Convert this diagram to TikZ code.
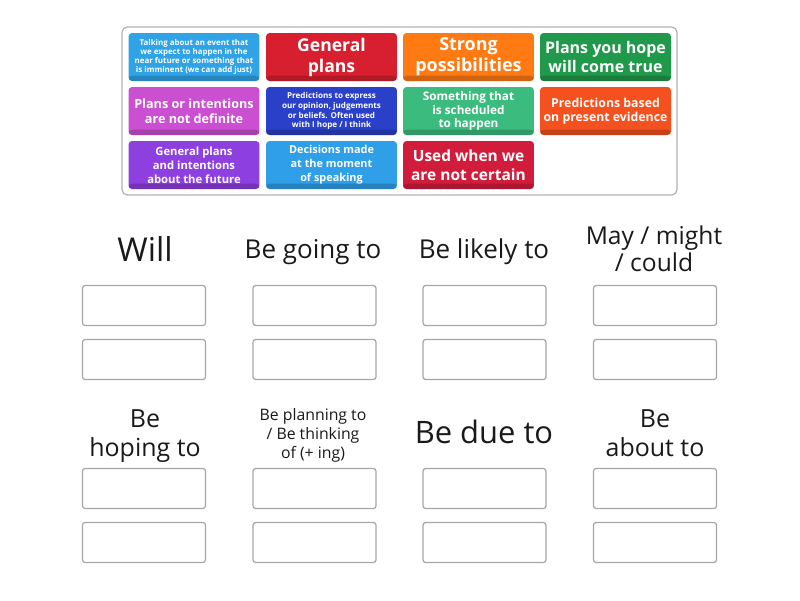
\documentclass[tikz,border=0pt]{standalone}
\usepackage{fontspec}
\setmainfont{Open Sans}
\definecolor{tLightBlue}{HTML}{2FA3E6}
\definecolor{tRed}{HTML}{D81F30}
\definecolor{tOrange}{HTML}{FF7A12}
\definecolor{tGreen}{HTML}{20994A}
\definecolor{tMagenta}{HTML}{CB4FD1}
\definecolor{tDarkBlue}{HTML}{2A40C8}
\definecolor{tTeal}{HTML}{3CBB7F}
\definecolor{tOrangeRed}{HTML}{F4511E}
\definecolor{tPurple}{HTML}{8E3FE0}
\definecolor{tSkyBlue}{HTML}{2F9FE8}
\definecolor{tCrimson}{HTML}{D11D3B}
\newcommand{\fs}[2]{\fontsize{#1}{#2}\selectfont}
\begin{document}
\begin{tikzpicture}[x=0.02cm, y=-0.02cm,
  tile/.style={rounded corners=2pt, minimum width=2.62cm, minimum height=0.96cm,
    inner sep=0pt, align=center, text=white,
    path picture={\fill[black, opacity=.18] (path picture bounding box.south west)
      rectangle ([yshift=3pt]path picture bounding box.south east);}},
  slot/.style={draw=black!35, line width=0.7pt, rounded corners=1.5pt,
    minimum width=2.46cm, minimum height=0.8cm, inner sep=0pt},
  head/.style={align=center, text=black!90, inner sep=0pt}]

\useasboundingbox (0,0) rectangle (800,600);

% tile tray
\draw[black!30, line width=0.7pt, rounded corners=3pt] (122,27) rectangle (677,195);

\node[tile, fill=tLightBlue, font=\bfseries\fs{4.5}{5.1}] (t1) at (194,57) {Talking about an event that\\ we expect to happen in the\\ near future or something that\\ is imminent (we can add just)};
\node[tile, fill=tRed, font=\bfseries\fs{10}{12}] (t2) at (331.5,57) {General\\ plans};
\node[tile, fill=tOrange, font=\bfseries\fs{10.2}{12}] (t3) at (468.5,57) {Strong\\ possibilities};
\node[tile, fill=tGreen, font=\bfseries\fs{9.1}{10.8}] (t4) at (605.5,57) {Plans you hope\\ will come true};

\node[tile, fill=tMagenta, font=\bfseries\fs{7.2}{8.5}] (t5) at (194,111) {Plans or intentions\\ are not definite};
\node[tile, fill=tDarkBlue, font=\bfseries\fs{4.6}{5.6}] (t6) at (331.5,111) {Predictions to express\\ our opinion, judgements\\ or beliefs. Often used\\ with I hope / I think};
\node[tile, fill=tTeal, font=\bfseries\fs{6.7}{7.9}] (t7) at (468.5,111) {Something that\\ is scheduled\\ to happen};
\node[tile, fill=tOrangeRed, font=\bfseries\fs{7}{8}] (t8) at (605.5,111) {Predictions based\\ on present evidence};

\node[tile, fill=tPurple, font=\bfseries\fs{6.4}{7.9}] (t9) at (194,165) {General plans\\ and intentions\\ about the future};
\node[tile, fill=tSkyBlue, font=\bfseries\fs{6.2}{7.9}] (t10) at (331.5,165) {Decisions made\\ at the moment\\ of speaking};
\node[tile, fill=tCrimson, font=\bfseries\fs{8.8}{10.8}] (t11) at (468.5,165) {Used when we\\ are not certain};

% headings, first row
\node[head, font=\fs{18.7}{22}] (h1) at (145,249) {Will};
\node[head, font=\fs{14.8}{17}] (h2) at (313,252) {Be going to};
\node[head, font=\fs{14.8}{17}] (h3) at (484,252) {Be likely to};
\node[head, font=\fs{14}{15.3}] (h4) at (654,249) {May / might\\ / could};

% headings, second row
\node[head, font=\fs{14.2}{16.4}] (h5) at (145,436) {Be\\ hoping to};
\node[head, font=\fs{9}{10.8}] (h6) at (313,435) {Be planning to\\ / Be thinking\\ of (+ ing)};
\node[head, font=\fs{17.6}{20}] (h7) at (484,432) {Be due to};
\node[head, font=\fs{14.2}{16.4}] (h8) at (655,433) {Be\\ about to};

% answer slots
\node[slot] (s1a) at (144,305.5) {};
\node[slot] (s1b) at (144,359.5) {};
\node[slot] (s2a) at (314.5,305.5) {};
\node[slot] (s2b) at (314.5,359.5) {};
\node[slot] (s3a) at (484.5,305.5) {};
\node[slot] (s3b) at (484.5,359.5) {};
\node[slot] (s4a) at (655,305.5) {};
\node[slot] (s4b) at (655,359.5) {};

\node[slot] (s5a) at (144,488.5) {};
\node[slot] (s5b) at (144,542.5) {};
\node[slot] (s6a) at (314.5,488.5) {};
\node[slot] (s6b) at (314.5,542.5) {};
\node[slot] (s7a) at (484.5,488.5) {};
\node[slot] (s7b) at (484.5,542.5) {};
\node[slot] (s8a) at (655,488.5) {};
\node[slot] (s8b) at (655,542.5) {};
\end{tikzpicture}
\end{document}
